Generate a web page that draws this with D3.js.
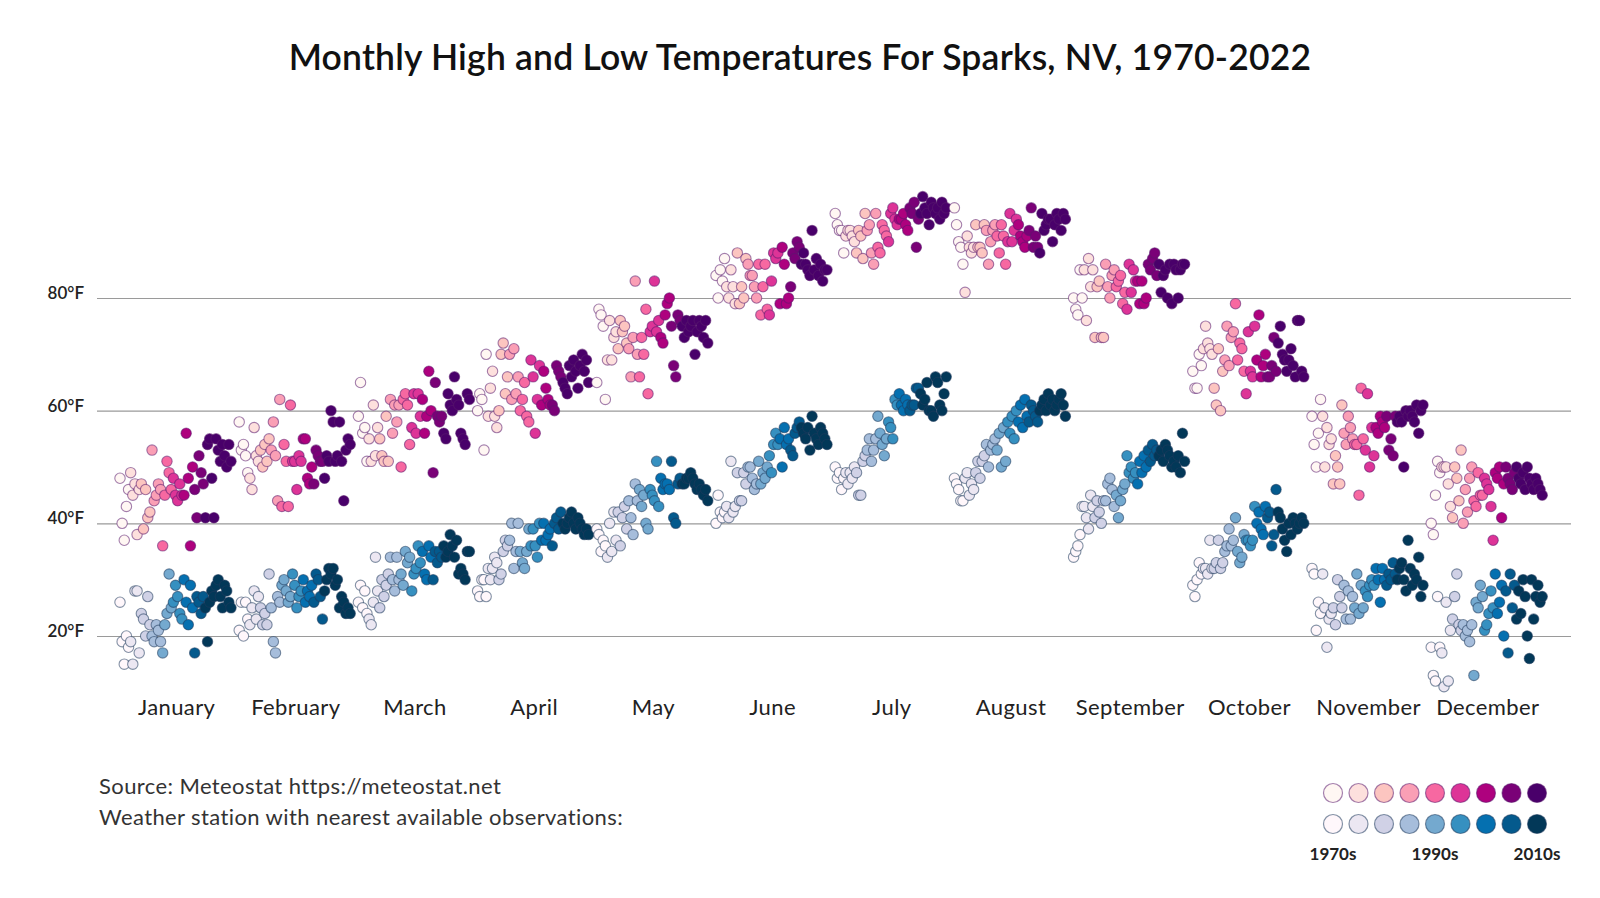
<!DOCTYPE html>
<html><head><meta charset="utf-8">
<script src="https://cdn.jsdelivr.net/npm/d3@7"></script>
<style>body{margin:0;background:#fff} svg{display:block}</style>
</head><body><svg id="c" width="1600" height="898"></svg>
<script>
const months = ["January","February","March","April","May","June","July","August","September","October","November","December"];
const startYear = 1970, endYear = 2022;
const yTicks = [20,40,60,80];
const legendYears = [1970,1975,1980,1985,1990,1995,2000,2005,2010];
const legendLabels = [{year:1970,label:"1970s"},{year:1990,label:"1990s"},{year:2010,label:"2010s"}];
const titleText = "Monthly High and Low Temperatures For Sparks, NV, 1970-2022";
const sourceLines = ["Source: Meteostat https://meteostat.net","Weather station with nearest available observations:"];

const hiJan = [48,40,37,43,46,49,45,47,38,46,47,39,46,41,42,53,44,45,47,46,36,45,51,49,46,48,45,44,47,45,45,56,48,36,50,46,41,52,49,47,41,54,55,48,41,55,53,51,54,52,50,54,51];
const loJan = [26,19,15,20,18,19,15,28,28,17,24,23,20,27,22,20,19,22,21,19,17,22,24,31,25,26,29,27,24,23,30,26,22,29,25,17,27,26,24,27,25,19,26,28,27,29,30,27,25,29,28,26,25];
const hiFeb = [58,53,54,52,49,48,46,57,52,51,53,50,54,51,55,53,58,52,44,62,43,54,51,43,61,51,51,46,52,51,55,55,48,47,50,47,53,52,51,51,48,52,51,60,58,51,52,58,51,44,53,55,54];
const loFeb = [21,26,20,26,23,22,25,28,23,27,25,22,24,22,31,25,19,17,27,26,29,30,28,26,27,31,29,25,27,28,30,26,28,27,29,26,31,30,27,23,28,30,32,31,32,29,30,25,27,26,24,25,24];
const hiMar = [59,65,56,57,51,55,51,61,52,57,55,52,51,59,51,62,56,61,58,61,50,62,63,61,54,57,63,56,63,59,62,56,59,67,60,49,65,59,58,59,56,55,63,61,60,66,62,61,56,55,54,63,62];
const loMar = [26,29,25,28,24,23,22,26,34,28,25,30,27,29,31,34,30,28,34,30,31,29,35,33,34,28,31,32,36,33,35,31,30,36,34,30,35,33,35,34,36,34,35,38,36,34,37,31,32,31,30,35,35];
const hiApr = [60,63,62,53,70,59,64,67,59,57,60,70,72,63,66,70,62,71,63,66,60,62,65,59,58,69,66,56,62,68,61,67,64,62,61,61,60,68,67,66,65,64,63,68,66,69,67,64,68,70,67,69,65];
const loApr = [28,27,30,30,27,32,30,32,34,33,30,31,35,37,36,37,40,32,35,40,35,33,32,35,39,36,39,36,34,40,37,40,37,38,39,36,40,41,39,42,40,39,40,41,42,40,39,41,40,39,38,39,38];
const hiMay = [65,78,77,75,62,69,76,69,73,74,71,76,74,75,72,71,66,73,83,70,66,73,70,78,63,74,75,83,74,76,73,72,77,79,80,75,68,66,77,76,75,73,76,74,75,76,70,74,76,75,73,76,72];
const loMay = [39,38,35,37,36,34,40,35,42,37,42,36,41,43,39,44,41,38,47,44,46,43,45,40,39,46,45,44,51,43,48,46,47,47,46,51,41,40,47,48,47,47,48,48,49,48,47,46,47,46,45,46,44];
const hiJun = [84,80,85,83,87,82,80,85,82,79,88,79,82,80,87,86,84,84,82,80,86,77,82,86,78,77,83,88,87,88,79,89,86,79,80,82,88,87,90,89,86,88,86,85,84,92,85,87,84,86,83,85,85];
const loJun = [40,45,42,41,42,43,41,51,42,43,49,44,44,49,47,50,50,48,46,47,51,47,49,48,50,52,49,54,56,54,55,50,57,54,55,53,52,56,57,58,57,56,55,57,53,59,56,55,54,57,56,55,54];
const hiJul = [95,93,92,92,88,91,92,92,91,90,88,92,91,87,95,92,93,88,86,95,89,88,93,92,91,90,95,96,94,93,94,94,95,93,92,96,95,97,89,94,95,98,96,95,93,97,96,95,96,94,97,95,96];
const loJul = [50,48,49,46,48,49,47,49,48,50,49,45,45,51,52,53,55,51,53,55,59,56,54,52,55,58,57,55,62,61,63,61,60,62,61,60,61,61,64,64,63,61,62,65,60,60,59,66,65,61,60,63,66];
const hiAug = [96,93,90,89,86,81,91,89,88,89,93,89,89,88,93,92,86,90,92,93,91,88,93,91,86,90,95,90,92,94,93,91,90,89,91,92,96,89,91,89,88,95,92,93,94,94,90,93,95,94,92,95,94];
const loAug = [48,47,46,44,44,48,49,45,47,46,49,51,48,51,52,54,50,53,54,55,53,56,50,57,51,58,56,59,55,60,58,61,57,62,59,58,61,60,59,58,60,61,62,60,63,61,62,60,61,62,63,61,59];
const hiSep = [80,78,77,85,80,85,76,87,82,85,73,82,83,73,73,86,82,80,84,85,82,83,84,79,81,78,86,81,85,83,83,79,83,79,80,86,85,87,88,84,86,81,84,85,80,86,79,86,85,80,85,86,86];
const loSep = [34,35,36,38,43,43,41,39,45,43,41,44,42,40,44,44,47,48,46,43,45,41,44,46,47,52,49,50,48,49,47,51,49,52,50,53,51,54,52,53,52,53,51,54,53,52,50,51,50,52,49,56,51];
const hiOct = [67,64,64,70,68,71,75,72,71,70,64,61,71,60,67,69,75,68,73,74,79,69,72,71,67,63,74,67,66,75,69,77,66,68,70,66,66,68,73,67,72,75,70,69,67,69,71,68,66,76,76,67,66];
const loOct = [29,27,30,33,31,32,32,31,37,32,32,33,37,32,33,35,36,39,36,37,41,35,33,34,38,37,37,36,37,43,40,42,39,38,43,41,42,36,38,46,42,41,39,37,35,40,38,41,40,39,40,41,40];
const hiNov = [59,54,50,56,62,59,50,57,54,55,47,52,50,47,61,56,54,59,57,55,54,54,45,64,55,53,63,50,57,52,57,56,59,58,57,59,53,55,52,59,58,59,58,50,60,59,60,59,58,61,56,60,61];
const loNov = [32,31,21,26,24,31,25,18,23,24,25,22,30,27,25,29,23,28,23,27,25,31,24,29,25,28,27,29,30,29,32,30,26,32,30,29,31,30,33,31,30,32,33,30,28,37,32,29,31,30,34,27,29];
const hiDec = [40,38,45,51,49,50,50,50,47,43,41,50,48,44,53,40,46,42,48,50,44,43,49,45,45,48,47,46,43,37,49,48,50,41,47,50,48,47,46,49,50,48,47,49,46,50,48,47,46,48,47,46,45];
const loDec = [18,13,12,27,18,17,11,26,12,21,23,27,31,22,21,22,20,21,19,22,13,26,25,29,27,21,22,24,28,25,31,24,26,29,20,28,17,31,25,29,23,28,24,30,27,20,16,30,23,27,29,26,27];

const hiSeries = [hiJan,hiFeb,hiMar,hiApr,hiMay,hiJun,hiJul,hiAug,hiSep,hiOct,hiNov,hiDec];
const loSeries = [loJan,loFeb,loMar,loApr,loMay,loJun,loJul,loAug,loSep,loOct,loNov,loDec];

const rows = [];
months.forEach((m, mi) => {
  loSeries[mi].forEach((v, i) => rows.push({month: m, year: startYear + i, temp: v, kind: "lo"}));
  hiSeries[mi].forEach((v, i) => rows.push({month: m, year: startYear + i, temp: v, kind: "hi"}));
});

const svg = d3.select("#c");
const FONT = "Lato, 'Open Sans', sans-serif";
const x = d3.scaleBand().domain(months).range([117, 1547.4]);
const xYear = d3.scaleLinear().domain([startYear, endYear]).range([3, 114]);
const y = d3.scaleLinear().domain([20, 80]).range([636, 298]);
const bin = d3.scaleThreshold().domain(legendYears.slice(1)).range(d3.range(9));
const palettes = {hi: d3.schemeRdPu[9], lo: d3.schemePuBu[9]};
const strokes = {hi: "#5a1a6e", lo: "#1f3b5c"};

// title
svg.append("text").attr("x", 800).attr("y", 70).attr("text-anchor", "middle")
  .attr("font-family", FONT).attr("font-size", 35.5).attr("font-weight", 600).attr("fill", "#111")
  .attr("letter-spacing", 0.2)
  .text(titleText);

// y grid + labels
const yAxis = svg.append("g").attr("transform", "translate(97,0)")
  .call(d3.axisLeft(y).tickValues(yTicks).tickSize(-(1571 - 97)).tickPadding(13).tickFormat(d => d + "°F"));
yAxis.select(".domain").remove();
yAxis.selectAll(".tick line").attr("stroke", "#9a9a9a").attr("stroke-width", 1.2);
yAxis.selectAll(".tick text").attr("font-family", FONT).attr("font-size", 17).attr("font-weight", 600)
  .attr("fill", "#222").attr("dy", "0.32em").attr("y", -5);

// month axis
const xAxis = svg.append("g").attr("transform", "translate(0,690)")
  .call(d3.axisBottom(x).tickSize(0).tickPadding(9));
xAxis.select(".domain").remove();
xAxis.selectAll(".tick text").attr("font-family", FONT).attr("font-size", 22).attr("fill", "#222")
  .attr("letter-spacing", 0.4);

// dots
svg.append("g").selectAll("circle").data(rows).join("circle")
  .attr("cx", d => x(d.month) + xYear(d.year))
  .attr("cy", d => y(d.temp))
  .attr("r", 5.2)
  .attr("fill", d => palettes[d.kind][bin(d.year)])
  .attr("stroke", d => strokes[d.kind])
  .attr("stroke-opacity", 0.55)
  .attr("stroke-width", 1.1);

// source
svg.append("g").selectAll("text").data(sourceLines).join("text")
  .attr("x", 99).attr("y", (d, i) => 794 + i * 31)
  .attr("font-family", FONT).attr("font-size", 22).attr("fill", "#333")
  .attr("letter-spacing", 0.4)
  .text(d => d);

// legend
const lx = d3.scaleLinear().domain([1970, 2010]).range([1333, 1537]);
const leg = svg.append("g");
["hi", "lo"].forEach((k, ri) => {
  leg.append("g").selectAll("circle").data(legendYears).join("circle")
    .attr("cx", d => lx(d)).attr("cy", 793 + ri * 31).attr("r", 9.5)
    .attr("fill", d => palettes[k][bin(d)])
    .attr("stroke", strokes[k]).attr("stroke-opacity", 0.55).attr("stroke-width", 1.2);
});
leg.selectAll("text").data(legendLabels).join("text")
  .attr("x", d => lx(d.year)).attr("y", 860).attr("text-anchor", "middle")
  .attr("font-family", FONT).attr("font-size", 17).attr("font-weight", 700).attr("fill", "#222")
  .text(d => d.label);
</script></body></html>
